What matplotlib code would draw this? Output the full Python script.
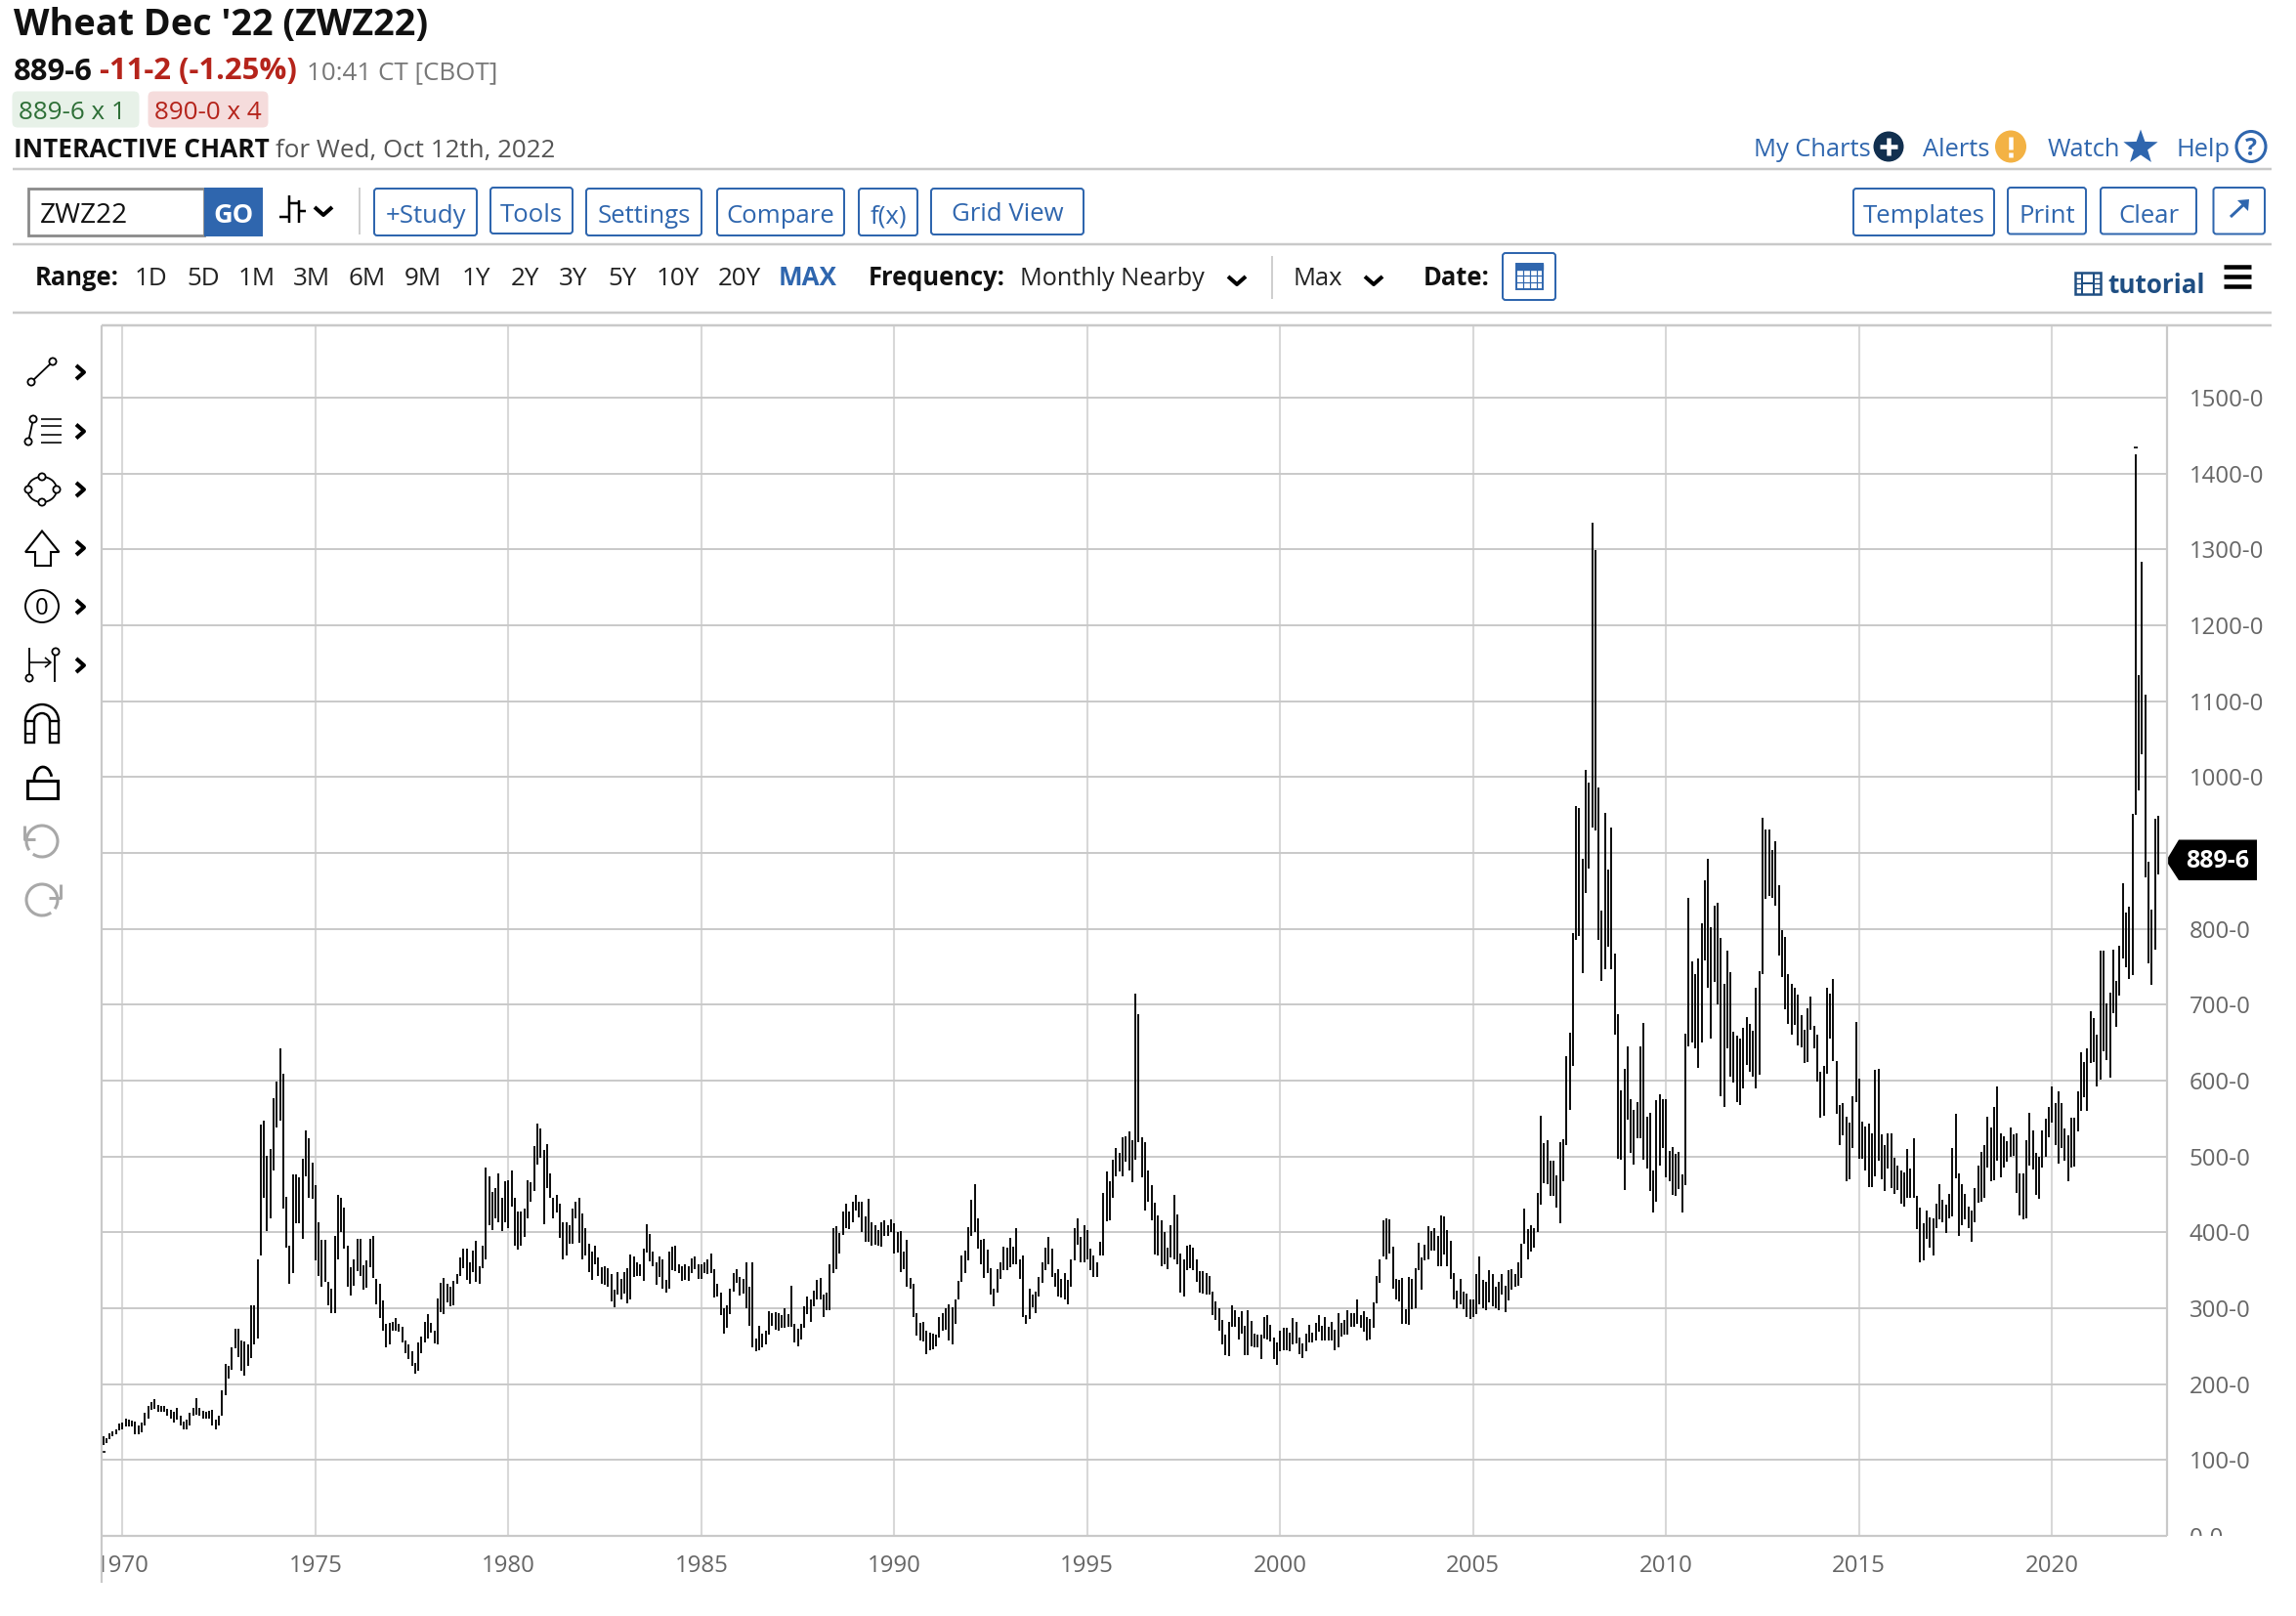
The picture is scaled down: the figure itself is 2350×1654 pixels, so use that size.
import numpy as np
import matplotlib
matplotlib.use("Agg")
import matplotlib.pyplot as plt
from matplotlib.patches import FancyBboxPatch, Rectangle, Circle, Ellipse, Polygon, Arc
from matplotlib.transforms import Bbox

plt.rcParams['font.family'] = ['Open Sans', 'DejaVu Sans']

W, H = 2350, 1654
BLUE = '#2f66ae'
LINE = '#c9c9c9'

# monthly bars, first one is Jul 1969, last one Oct 2022
first_month = 1969.5
highs = [
    131, 129, 135, 138, 141, 148, 149, 154, 153, 152, 151, 146, 150, 162, 171, 177, 180, 173, 171, 171,
    168, 166, 163, 169, 159, 151, 153, 162, 169, 182, 169, 165, 164, 165, 166, 153, 158, 192, 226, 224,
    248, 273, 273, 257, 256, 253, 304, 304, 364, 542, 547, 501, 510, 577, 599, 643, 609, 447, 383, 476,
    476, 472, 497, 535, 524, 492, 462, 414, 390, 390, 335, 326, 395, 449, 446, 433, 383, 354, 364, 392,
    391, 357, 363, 391, 395, 339, 332, 310, 279, 281, 282, 287, 280, 275, 258, 252, 244, 228, 255, 263,
    282, 292, 281, 271, 313, 334, 340, 332, 329, 336, 345, 367, 379, 379, 360, 376, 389, 355, 382, 485,
    474, 453, 458, 478, 445, 467, 469, 481, 445, 428, 428, 432, 469, 466, 514, 543, 537, 509, 516, 478,
    445, 449, 438, 414, 414, 409, 431, 440, 445, 425, 405, 385, 375, 383, 367, 354, 356, 353, 345, 325,
    348, 339, 348, 353, 371, 368, 361, 358, 378, 411, 398, 375, 361, 368, 364, 338, 375, 381, 383, 358,
    355, 358, 356, 366, 368, 358, 358, 361, 365, 372, 351, 332, 321, 300, 304, 326, 347, 351, 341, 339,
    360, 329, 360, 260, 277, 267, 271, 296, 294, 295, 294, 291, 300, 292, 330, 280, 273, 280, 303, 316,
    312, 323, 337, 340, 318, 321, 358, 405, 408, 399, 428, 438, 427, 441, 449, 441, 440, 421, 444, 414,
    410, 403, 413, 416, 410, 417, 412, 401, 402, 375, 390, 340, 332, 293, 281, 282, 271, 268, 267, 265,
    288, 294, 300, 305, 301, 312, 336, 370, 376, 407, 443, 463, 418, 390, 392, 377, 353, 326, 351, 360,
    381, 380, 393, 381, 406, 365, 370, 291, 326, 318, 322, 341, 360, 380, 394, 378, 347, 352, 339, 346,
    337, 365, 405, 418, 394, 410, 403, 379, 369, 360, 388, 452, 480, 467, 496, 511, 505, 525, 527, 533,
    521, 715, 688, 526, 519, 482, 462, 439, 423, 416, 401, 380, 409, 449, 424, 372, 364, 382, 384, 380,
    364, 349, 349, 347, 343, 322, 309, 300, 284, 265, 282, 304, 297, 288, 296, 277, 298, 283, 267, 265,
    265, 288, 291, 278, 262, 255, 270, 274, 274, 268, 287, 282, 262, 254, 267, 278, 268, 281, 291, 277,
    288, 275, 282, 272, 294, 281, 285, 298, 294, 294, 312, 291, 296, 289, 286, 308, 343, 364, 416, 419,
    417, 381, 339, 337, 340, 299, 341, 339, 353, 386, 367, 384, 408, 402, 406, 395, 422, 421, 403, 389,
    347, 323, 339, 322, 320, 312, 312, 345, 368, 337, 335, 350, 345, 328, 335, 345, 330, 350, 352, 345,
    360, 385, 431, 404, 409, 406, 452, 554, 518, 521, 494, 494, 475, 519, 523, 632, 663, 794, 962, 960,
    892, 1010, 993, 1335, 1299, 986, 824, 953, 878, 933, 768, 688, 587, 615, 645, 576, 562, 572, 645, 676,
    553, 557, 481, 574, 582, 575, 575, 508, 512, 503, 506, 477, 662, 841, 757, 740, 761, 807, 864, 893,
    802, 830, 835, 788, 728, 771, 743, 665, 659, 656, 670, 684, 675, 666, 722, 744, 947, 931, 931, 904,
    916, 858, 799, 789, 741, 727, 723, 714, 687, 667, 695, 711, 672, 661, 612, 620, 723, 715, 734, 626,
    568, 571, 552, 545, 579, 677, 603, 546, 540, 543, 530, 614, 615, 529, 515, 531, 530, 498, 488, 482,
    479, 510, 484, 524, 448, 433, 412, 429, 420, 419, 438, 464, 443, 437, 451, 511, 556, 478, 463, 451,
    434, 429, 459, 488, 506, 515, 553, 538, 565, 592, 530, 527, 520, 538, 529, 531, 478, 478, 521, 557,
    535, 505, 500, 535, 550, 565, 592, 570, 586, 571, 537, 528, 551, 551, 586, 637, 625, 643, 691, 682,
    661, 771, 771, 702, 716, 773, 731, 778, 860, 822, 829, 952, 1426, 1135, 1284, 1109, 888, 826, 945, 949,
]
lows = [
    120, 122, 128, 131, 134, 139, 141, 144, 144, 144, 134, 134, 137, 146, 155, 166, 167, 163, 163, 164,
    158, 154, 149, 153, 146, 140, 141, 146, 158, 160, 158, 155, 154, 155, 145, 140, 146, 158, 186, 207,
    219, 247, 236, 217, 211, 224, 235, 253, 260, 370, 445, 402, 418, 481, 538, 547, 431, 380, 332, 346,
    412, 412, 391, 474, 446, 444, 363, 343, 329, 335, 304, 293, 293, 365, 401, 378, 329, 317, 330, 349,
    343, 325, 327, 354, 340, 305, 287, 270, 249, 253, 271, 271, 269, 255, 241, 233, 224, 214, 218, 241,
    255, 260, 268, 254, 253, 295, 292, 308, 302, 304, 332, 343, 353, 338, 332, 348, 335, 332, 353, 365,
    410, 403, 418, 413, 402, 413, 406, 434, 383, 377, 383, 394, 418, 440, 454, 489, 498, 411, 459, 446,
    419, 426, 393, 365, 370, 385, 385, 418, 386, 364, 370, 348, 338, 358, 343, 332, 331, 329, 309, 301,
    318, 311, 320, 306, 312, 341, 343, 342, 336, 373, 362, 355, 331, 341, 326, 321, 326, 350, 349, 346,
    336, 337, 336, 346, 352, 339, 339, 346, 345, 346, 314, 316, 291, 266, 274, 292, 322, 334, 317, 319,
    300, 277, 248, 243, 245, 248, 253, 265, 277, 272, 270, 274, 274, 275, 275, 255, 250, 259, 274, 292,
    282, 302, 312, 312, 288, 298, 297, 346, 352, 372, 396, 405, 404, 414, 429, 420, 400, 388, 387, 382,
    384, 383, 381, 395, 395, 400, 372, 373, 348, 352, 329, 326, 289, 264, 258, 256, 240, 245, 246, 250,
    261, 271, 272, 258, 252, 280, 311, 335, 346, 363, 395, 401, 378, 358, 340, 346, 318, 303, 321, 339,
    350, 350, 354, 358, 358, 339, 289, 280, 286, 301, 294, 315, 333, 350, 358, 341, 329, 315, 314, 312,
    305, 329, 363, 384, 361, 361, 365, 350, 341, 341, 369, 369, 415, 416, 445, 474, 480, 474, 493, 482,
    466, 496, 519, 472, 429, 440, 416, 371, 370, 356, 358, 352, 367, 365, 358, 321, 315, 350, 353, 350,
    335, 321, 320, 318, 318, 291, 285, 271, 253, 238, 237, 276, 275, 259, 267, 238, 238, 250, 248, 248,
    233, 260, 259, 256, 233, 225, 243, 245, 245, 243, 252, 254, 240, 235, 243, 255, 255, 257, 269, 257,
    257, 258, 257, 245, 248, 263, 265, 265, 275, 275, 280, 274, 269, 258, 259, 274, 306, 333, 368, 365,
    372, 326, 312, 309, 280, 280, 278, 299, 300, 350, 325, 363, 364, 376, 376, 356, 356, 371, 356, 339,
    312, 300, 305, 299, 288, 286, 288, 292, 305, 300, 298, 308, 303, 300, 297, 318, 295, 310, 325, 328,
    330, 340, 385, 365, 375, 380, 401, 436, 465, 464, 448, 448, 433, 412, 468, 515, 562, 620, 785, 791,
    742, 847, 879, 934, 930, 785, 732, 747, 776, 747, 661, 497, 496, 456, 549, 505, 489, 524, 524, 496,
    484, 454, 426, 440, 488, 511, 473, 467, 450, 448, 457, 426, 462, 645, 650, 643, 617, 650, 758, 723,
    656, 730, 701, 580, 565, 642, 605, 597, 572, 568, 590, 621, 612, 605, 590, 608, 741, 839, 843, 841,
    830, 765, 737, 694, 675, 660, 673, 647, 644, 623, 625, 667, 642, 599, 551, 554, 609, 656, 626, 556,
    515, 528, 467, 470, 511, 572, 497, 497, 481, 460, 460, 474, 494, 470, 455, 484, 458, 451, 456, 438,
    434, 446, 446, 445, 404, 360, 363, 392, 380, 370, 405, 417, 413, 399, 419, 421, 471, 395, 409, 417,
    405, 387, 414, 439, 441, 446, 486, 467, 469, 495, 472, 485, 493, 500, 501, 452, 423, 417, 418, 488,
    483, 450, 444, 485, 499, 526, 545, 515, 491, 511, 494, 468, 486, 487, 533, 560, 578, 560, 623, 625,
    593, 601, 639, 627, 604, 689, 671, 712, 761, 749, 734, 739, 950, 983, 1030, 868, 754, 726, 773, 872,
]

# the two short dashes that sit apart from the bars
dash_years = [1969.5, 2022.16]
dash_prices = [111, 1434]

year_ticks = [1970, 1975, 1980, 1985, 1990, 1995, 2000, 2005, 2010, 2015, 2020]
price_ticks = [0, 100, 200, 300, 400, 500, 600, 700, 800, 900, 1000, 1100, 1200, 1300, 1400, 1500]
# 900-0 sits behind the last price tag in the reference, so it has no visible label
price_labels = ['0-0', '100-0', '200-0', '300-0', '400-0', '500-0', '600-0', '700-0', '800-0', '',
                '1000-0', '1100-0', '1200-0', '1300-0', '1400-0', '1500-0']
last_label = '889-6'

range_items = ['1D', '5D', '1M', '3M', '6M', '9M', '1Y', '2Y', '3Y', '5Y', '10Y', '20Y']
range_centers = [155, 208, 263, 319, 376, 433, 487, 537, 587, 637, 694, 757]


def px(size):
    return size * 72 / 100


fig = plt.figure(figsize=(W / 100, H / 100), dpi=100)

# chart area: left 104, right 2218, top 333, bottom 1572 in pixels
ax = fig.add_axes([104 / W, 1 - 1572 / H, (2218 - 104) / W, (1572 - 333) / H])
ax.set_xlim(1969.46, 2022.98)
ax.set_ylim(0, 1595.5)
for s in ax.spines.values():
    s.set_visible(False)
ax.set_axisbelow(True)
ax.set_xticks(year_ticks)
ax.set_xticklabels([str(y) for y in year_ticks])
ax.set_yticks(price_ticks)
ax.set_yticklabels(price_labels)
ax.yaxis.tick_right()
ax.grid(True, axis='x', color='#d8d8d8', lw=1.5)
ax.grid(True, axis='y', color=LINE, lw=1.4)
ax.tick_params(axis='both', length=0, labelsize=px(24), labelcolor='#666666')
ax.tick_params(axis='y', pad=16.5)
ax.tick_params(axis='x', pad=13.5)
clip = Bbox([[104, 0], [W, H - 333]])
for t in ax.get_xticklabels():
    t.set_clip_box(clip)
    t.set_clip_on(True)
clip2 = Bbox([[2218, H - 1572], [W, H]])
for t in ax.get_yticklabels():
    t.set_clip_box(clip2)
    t.set_clip_on(True)

years = first_month + np.arange(len(highs)) / 12
ax.vlines(years, lows, highs, color='black', lw=1.35, zorder=3)
ax.hlines(dash_prices, np.array(dash_years) - 0.05, np.array(dash_years) + 0.05, color='black', lw=1.2, zorder=3)

# everything around the chart is drawn in plain pixel coordinates
ui = fig.add_axes([0, 0, 1, 1], facecolor='none')
ui.set_xlim(0, W)
ui.set_ylim(H, 0)
ui.axis('off')


def txt(x, y, s, size, color='black', weight='normal', ha='left'):
    return ui.text(x, y, s, fontsize=px(size), color=color, fontweight=weight, ha=ha, va='baseline')


def line(xs, ys, color='black', lw=2.0, **kw):
    ui.plot(xs, ys, color=color, lw=lw * 0.72, solid_capstyle=kw.pop('cap', 'butt'), **kw)


def box(x0, y0, x1, y1, face='white', edge=BLUE, lw=2.0, r=3):
    ui.add_patch(FancyBboxPatch((x0 + r, y0 + r), x1 - x0 - 2 * r, y1 - y0 - 2 * r,
                                boxstyle='round,pad=%d,rounding_size=%d' % (r, r),
                                fc=face, ec=edge, lw=lw * 0.72))


def chevron(x, y, w=6, h=6, color='black', lw=4.0, right=True):
    if right:
        line([x - w / 2, x + w / 2, x - w / 2], [y - h, y, y + h], color=color, lw=lw)
    else:
        line([x - h, x, x + h], [y - w / 2, y + w / 2, y - w / 2], color=color, lw=lw)


def ring(x, y, r=3.6, color='black', lw=1.8):
    ui.add_patch(Circle((x, y), r, fc='white', ec=color, lw=lw * 0.72, zorder=4))


# axis frame
line([104, 104], [333, 1620], color=LINE, lw=2.2)
line([2218, 2218], [333, 1572], color=LINE, lw=2.2)
line([104, 2325], [332.5, 332.5], color=LINE, lw=2.5)
line([104, 2218], [1572, 1572], color=LINE, lw=2.2)

# header
txt(14, 36, "Wheat Dec '22 (ZWZ22)", 37.8, '#111111', 'bold')
txt(14, 81.5, '889-6', 31, '#111111', 'bold')
txt(102, 81.5, '-11-2 (-1.25%)', 31, '#b5241b', 'bold')
txt(314, 81.5, '10:41 CT [CBOT]', 26, '#777777')
box(13, 94, 142, 130, face='#e7f1e8', edge='#e7f1e8', lw=1, r=5)
txt(19, 121.5, '889-6 x 1', 26, '#2e6f37')
box(152, 94, 274, 130, face='#f5dcdc', edge='#f5dcdc', lw=1, r=5)
txt(158, 121.5, '890-0 x 4', 26, '#b5241b')
txt(14, 161, 'INTERACTIVE CHART', 26.3, '#111111', 'bold')
txt(282, 161, 'for Wed, Oct 12th, 2022', 26, '#555555')

for y in [173, 250, 319.5]:
    line([13, 2325], [y, y], color=LINE, lw=2.5)

# top right links
txt(1795, 160, 'My Charts', 25.5, BLUE)
ui.add_patch(Circle((1933, 150), 15.5, fc='#12304f', ec='none'))
line([1924, 1942], [150, 150], color='white', lw=4.5)
line([1933, 1933], [141, 159], color='white', lw=4.5)
txt(1968, 160, 'Alerts', 25.5, BLUE)
ui.add_patch(Ellipse((2058, 150), 32, 33, fc='#f3b244', ec='none'))
line([2058, 2058], [140, 153], color='white', lw=4.5)
line([2058, 2058], [156, 161], color='white', lw=4.5)
txt(2096, 160, 'Watch', 25.5, BLUE)
star_a = np.deg2rad(-90 + 36 * np.arange(10))
star_r = np.where(np.arange(10) % 2 == 0, 18.5, 7.5)
ui.add_patch(Polygon(np.c_[2191 + star_r * np.cos(star_a), 151 + star_r * np.sin(star_a)], fc=BLUE, ec='none'))
txt(2228, 160, 'Help', 25.5, BLUE)
ui.add_patch(Ellipse((2304, 150), 30, 31, fc='white', ec=BLUE, lw=2.2))
ui.text(2304, 159, '?', fontsize=px(25), color=BLUE, fontweight='bold', ha='center', va='baseline')

# toolbar
ui.add_patch(Rectangle((29, 193), 180, 48, fc='white', ec='#8a8a8a', lw=2))
txt(41, 227.5, 'ZWZ22', 28, '#111111')
ui.add_patch(Rectangle((209, 192), 60, 49.5, fc=BLUE, ec='none'))
txt(239, 228, 'GO', 27, 'white', 'bold', 'center')
line([296, 296], [200, 228], lw=2.5)
line([286, 296], [222, 222], lw=2.5)
line([306, 306], [205, 228], lw=2.5)
line([296, 306], [208, 208], lw=2.5)
line([306, 313], [216, 216], lw=2.5)
chevron(331, 216, w=8, h=9, lw=4, right=False)
line([368, 368], [192, 240], color='#cfcfcf', lw=2)

buttons = [('+Study', 383, 488, 193, 241, 228.5), ('Tools', 502, 586, 192, 239, 227), ('Settings', 600, 718, 193, 241, 228.5),
           ('Compare', 734, 864, 193, 241, 228.5), ('f(x)', 879, 939, 193, 241, 228.5), ('Grid View', 953, 1109, 193, 240, 226.5),
           ('Templates', 1897, 2041, 193, 241, 228.5), ('Print', 2055, 2135, 192, 239.5, 227.5), ('Clear', 2150, 2248, 192, 239.5, 227.5)]
for name, x0, x1, y0, y1, base in buttons:
    box(x0, y0, x1, y1)
    txt((x0 + x1) / 2, base, name, 25.8, BLUE, ha='center')
box(2265.5, 192, 2318, 239.5)
line([2283, 2300], [222, 206], color=BLUE, lw=3)
ui.add_patch(Polygon([[2302, 204], [2290, 205], [2301, 216]], fc=BLUE, ec='none'))

# range row
txt(36, 292.5, 'Range:', 25.5, '#111111', 'bold')
for name, c in zip(range_items, range_centers):
    txt(c, 292.5, name, 26, '#222222', ha='center')
txt(827, 292.5, 'MAX', 26, BLUE, 'bold', 'center')
txt(889, 292.5, 'Frequency:', 25.5, '#111111', 'bold')
txt(1044.5, 292.5, 'Monthly Nearby', 25.2, '#222222')
chevron(1266, 287, w=8, h=9, lw=4, right=False)
line([1302, 1302], [262, 306], color='#cfcfcf', lw=2)
txt(1323, 292.5, 'Max', 25.5, '#222222')
chevron(1406, 287, w=8, h=9, lw=4, right=False)
txt(1457, 292.5, 'Date:', 25.5, '#111111', 'bold')
box(1538, 259, 1592, 307)
ui.add_patch(Rectangle((1552, 270), 27, 26, fc='white', ec=BLUE, lw=1.4))
ui.add_patch(Rectangle((1552, 270), 27, 6, fc=BLUE, ec=BLUE, lw=1))
for gx in [1558.5, 1565.5, 1572.5]:
    line([gx, gx], [276, 296], color=BLUE, lw=1.2)
for gy in [282, 289]:
    line([1552, 1579], [gy, gy], color=BLUE, lw=1.2)

# tutorial link and menu
ui.add_patch(Rectangle((2124, 279), 26, 22, fc='white', ec='#1f4e82', lw=1.8))
line([2131, 2131], [279, 301], color='#1f4e82', lw=2)
line([2143, 2143], [279, 301], color='#1f4e82', lw=2)
line([2131, 2143], [290, 290], color='#1f4e82', lw=2)
for y in [285, 290, 295]:
    line([2124, 2131], [y, y], color='#1f4e82', lw=1.4)
    line([2143, 2150], [y, y], color='#1f4e82', lw=1.4)
txt(2157, 300, 'tutorial', 26, '#1f4e82', 'bold')
for y in [273, 283, 293]:
    line([2275.5, 2304], [y, y], lw=4.5)

# drawing tools on the left
for y in [381, 441.5, 501, 561, 621, 681]:
    chevron(82, y, w=8, h=7, lw=4)
line([32, 54], [391, 370], lw=1.8)
ring(32, 391)
ring(54, 370)
line([29, 34], [452, 429], lw=1.8)
ring(29, 452)
ring(34, 429)
for y in [429, 436, 445, 452.5]:
    line([42, 63], [y, y], lw=1.6)
ui.add_patch(Ellipse((43, 501), 30, 26, fc='white', ec='black', lw=1.3))
for cx, cy in [(43, 488), (43, 514), (29, 501), (58, 501)]:
    ring(cx, cy)
ui.add_patch(Polygon([[43, 543.5], [26, 565], [36, 565], [36, 579], [52, 579], [52, 565], [60.5, 565]],
                     fc='white', ec='black', lw=1.5))
ui.add_patch(Ellipse((43, 620.5), 34, 33, fc='white', ec='black', lw=1.4))
ui.text(43, 629, '0', fontsize=px(24), color='black', ha='center', va='baseline')
line([30, 30], [663, 692], lw=1.8)
ring(30, 694)
line([30, 51], [678, 678], lw=1.6)
line([46, 52, 46], [673, 678, 683], lw=1.6)
line([56, 56], [670, 698], lw=1.8)
ring(57, 667)
ui.add_patch(Arc((43, 738), 34, 34, theta1=180, theta2=360, ec='black', lw=1.7))
ui.add_patch(Arc((43, 738), 16, 16, theta1=180, theta2=360, ec='black', lw=1.7))
ui.add_patch(Rectangle((26, 738), 9, 22, fc='white', ec='black', lw=1.7))
ui.add_patch(Rectangle((51, 738), 9, 22, fc='white', ec='black', lw=1.7))
line([26, 35], [751, 751], lw=1.8)
line([51, 60], [751, 751], lw=1.8)
ui.add_patch(Rectangle((28, 799), 31, 18, fc='white', ec='black', lw=2.2))
ui.add_patch(Arc((44, 798), 18, 26, theta1=180, theta2=340, ec='black', lw=2.0))
ui.add_patch(Arc((43, 861), 32, 32, theta1=-215, theta2=125, angle=0, ec='#a8a8a8', lw=2.2))
line([25, 25, 36], [845, 859, 859], color='#a8a8a8', lw=3)
ui.add_patch(Arc((43, 921), 32, 32, theta1=55, theta2=395, angle=0, ec='#a8a8a8', lw=2.2))
line([62, 62, 50], [905, 919, 919], color='#a8a8a8', lw=3)

# last price tag
ui.add_patch(Polygon([[2217, 881], [2230, 859.5], [2310, 859.5], [2310, 901], [2230, 901]], fc='black', ec='none'))
txt(2270, 888, last_label, 25, 'white', 'bold', 'center')

fig.savefig('out.png', dpi=100)
